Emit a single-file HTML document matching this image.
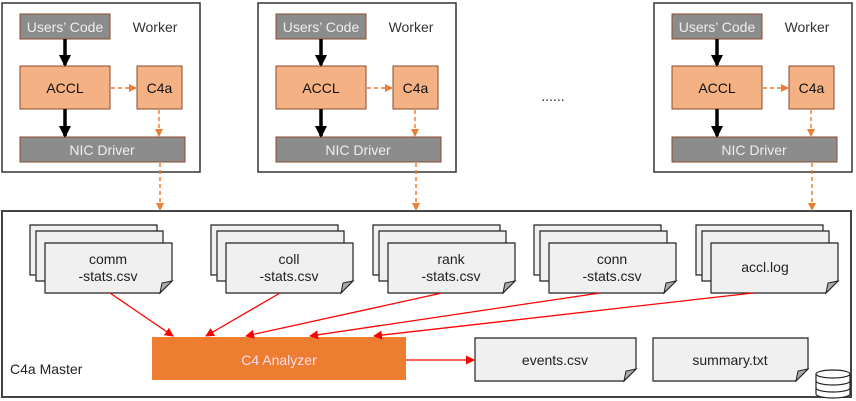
<!DOCTYPE html>
<html><head><meta charset="utf-8"><style>
html,body{margin:0;padding:0;background:#fff;}
svg{display:block;font-family:"Liberation Sans",sans-serif;}
</style></head><body>
<svg width="856" height="401" viewBox="0 0 856 401" xmlns="http://www.w3.org/2000/svg">
<defs>
<marker id="ob" markerWidth="8" markerHeight="8" refX="7" refY="4" orient="auto" markerUnits="userSpaceOnUse"><path d="M0,0 L8,4 L0,8 z" fill="#ED7D31"/></marker>
<marker id="bk" markerWidth="12" markerHeight="12" refX="10" refY="6" orient="auto" markerUnits="userSpaceOnUse"><path d="M0,0 L12,6 L0,12 z" fill="#000"/></marker>
<marker id="rd" markerWidth="9" markerHeight="9" refX="8" refY="4.5" orient="auto" markerUnits="userSpaceOnUse"><path d="M0,0 L9,4.5 L0,9 z" fill="#f00"/></marker>
<g id="worker">
<rect x="2" y="3" width="198" height="169" fill="#fff" stroke="#333" stroke-width="1.5"/>
<rect x="20" y="14" width="90" height="25" fill="#8c8c8c" stroke="#8a4a2a" stroke-width="1"/>
<text x="65" y="32" font-size="14" fill="#eee" text-anchor="middle">Users’ Code</text>
<text x="155" y="32" font-size="14" fill="#333" text-anchor="middle">Worker</text>
<rect x="20" y="66" width="90" height="43" fill="#F4B183" stroke="#8a4a2a" stroke-width="1"/>
<text x="65" y="93" font-size="14" fill="#111" text-anchor="middle">ACCL</text>
<rect x="137" y="66" width="45" height="43" fill="#F4B183" stroke="#8a4a2a" stroke-width="1"/>
<text x="159.5" y="93" font-size="14" fill="#111" text-anchor="middle">C4a</text>
<rect x="20" y="137" width="165" height="25" fill="#8c8c8c" stroke="#8a4a2a" stroke-width="1"/>
<text x="102" y="155" font-size="14" fill="#eee" text-anchor="middle">NIC Driver</text>
<line x1="65" y1="39" x2="65" y2="65" stroke="#000" stroke-width="3.5" marker-end="url(#bk)"/>
<line x1="65" y1="109" x2="65" y2="136" stroke="#000" stroke-width="3.5" marker-end="url(#bk)"/>
<line x1="111" y1="88" x2="136" y2="88" stroke="#ED7D31" stroke-width="1.5" stroke-dasharray="4,3" marker-end="url(#ob)"/>
<line x1="159" y1="110" x2="159" y2="136" stroke="#ED7D31" stroke-width="1.5" stroke-dasharray="4,3" marker-end="url(#ob)"/>
<line x1="160" y1="163" x2="160" y2="210" stroke="#ED7D31" stroke-width="1.5" stroke-dasharray="4,3" marker-end="url(#ob)"/>
</g>
<g id="page">
<path d="M0,0 H127 V38 L115,50 H0 Z" fill="#f0f0f0" stroke="#222" stroke-width="1.2"/>
<path d="M115,50 L117,40 L127,38 Z" fill="#aaa" stroke="#222" stroke-width="1"/>
</g>
<g id="stack">
<use href="#page" x="-15" y="-18"/>
<use href="#page" x="-9" y="-12"/>
<use href="#page"/>
</g>
</defs>
<rect x="2" y="211" width="849" height="186" fill="#fff" stroke="#444" stroke-width="2"/>
<use href="#worker"/>
<use href="#worker" x="256"/>
<use href="#worker" x="652"/>
<text x="553" y="101" font-size="14" fill="#222" text-anchor="middle">......</text>
<text x="10" y="374" font-size="14" fill="#222">C4a Master</text>

<use href="#stack" x="45" y="243"/>
<use href="#stack" x="226" y="243"/>
<use href="#stack" x="388" y="243"/>
<use href="#stack" x="549" y="243"/>
<use href="#stack" x="711" y="243"/>
<g font-size="14" fill="#222" text-anchor="middle">
<text x="108" y="264">comm</text><text x="108" y="281">-stats.csv</text>
<text x="289" y="264">coll</text><text x="289" y="281">-stats.csv</text>
<text x="451" y="264">rank</text><text x="451" y="281">-stats.csv</text>
<text x="612" y="264">conn</text><text x="612" y="281">-stats.csv</text>
<text x="765" y="272">accl.log</text>
</g>
<g transform="translate(475,338)"><path d="M0,0 H161 V31 L149,43 H0 Z" fill="#f0f0f0" stroke="#222" stroke-width="1.2"/><path d="M149,43 L151,33 L161,31 Z" fill="#aaa" stroke="#222"/>
<text x="80" y="27" font-size="14" fill="#222" text-anchor="middle">events.csv</text></g>
<g transform="translate(653,338)"><path d="M0,0 H155 V31 L143,43 H0 Z" fill="#f0f0f0" stroke="#222" stroke-width="1.2"/><path d="M143,43 L145,33 L155,31 Z" fill="#aaa" stroke="#222"/>
<text x="77" y="27" font-size="14" fill="#222" text-anchor="middle">summary.txt</text></g>
<rect x="152" y="337" width="254" height="43" fill="#ED7D31"/>
<text x="279" y="365" font-size="14" fill="#fde" text-anchor="middle">C4 Analyzer</text>
<g stroke="#f00" stroke-width="1.3" fill="none">
<line x1="110" y1="293" x2="173" y2="336" marker-end="url(#rd)"/>
<line x1="280" y1="293" x2="206" y2="336" marker-end="url(#rd)"/>
<line x1="442" y1="293" x2="246" y2="336" marker-end="url(#rd)"/>
<line x1="600" y1="293" x2="310" y2="336" marker-end="url(#rd)"/>
<line x1="753" y1="293" x2="374" y2="336" marker-end="url(#rd)"/>
<line x1="406" y1="360" x2="474" y2="360" marker-end="url(#rd)"/>
</g>
<g stroke="#222" stroke-width="1.2" fill="#fff">
<path d="M816,374 V394 A17,4 0 0 0 850,394 V374"/>
<ellipse cx="833" cy="374" rx="17" ry="4"/>
<path d="M816,381 A17,4 0 0 0 850,381 M816,388 A17,4 0 0 0 850,388" fill="none"/>
</g>
</svg>
</body></html>
